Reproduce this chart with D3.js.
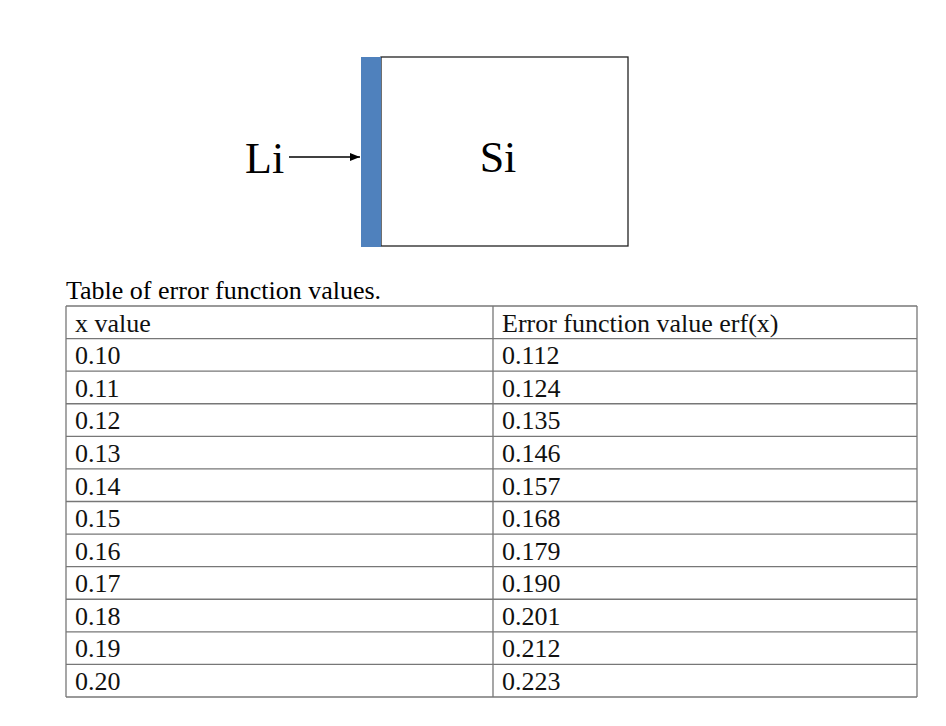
<!DOCTYPE html>
<html><head><meta charset="utf-8">
<script src="https://cdn.jsdelivr.net/npm/d3@7"></script>
<style>body{margin:0;background:#fff}</style>
</head><body>
<script>
// table contents
var headers = ["x value", "Error function value erf(x)"];
var xValues = ["0.10","0.11","0.12","0.13","0.14","0.15","0.16","0.17","0.18","0.19","0.20"];
var erfValues = ["0.112","0.124","0.135","0.146","0.157","0.168","0.179","0.190","0.201","0.212","0.223"];

var svg = d3.select("body").append("svg").attr("width", 946).attr("height", 726);
var font = "'Liberation Serif', 'Times New Roman', serif";

// ---- diagram
svg.append("defs").append("marker").attr("id", "ah")
  .attr("viewBox", "0 0 10 10").attr("refX", 10).attr("refY", 5)
  .attr("markerWidth", 8).attr("markerHeight", 8).attr("orient", "auto")
  .append("path").attr("d", "M0,1L10,5L0,9Z").attr("fill", "#000");

svg.append("rect").attr("x", 381).attr("y", 57).attr("width", 247).attr("height", 189)
  .attr("fill", "#fff").attr("stroke", "#222").attr("stroke-width", 1.3);
svg.append("rect").attr("x", 361).attr("y", 57).attr("width", 20).attr("height", 190)
  .attr("fill", "#4f81bd");
svg.append("text").attr("x", 245).attr("y", 173).attr("font-family", font)
  .attr("font-size", 44).text("Li");
svg.append("line").attr("x1", 289).attr("x2", 360).attr("y1", 157).attr("y2", 157)
  .attr("stroke", "#000").attr("stroke-width", 1.3).attr("marker-end", "url(#ah)");
svg.append("text").attr("x", 498).attr("y", 172).attr("text-anchor", "middle")
  .attr("font-family", font).attr("font-size", 44).text("Si");

// ---- table
svg.append("text").attr("x", 66).attr("y", 299).attr("font-family", font)
  .attr("font-size", 26).text("Table of error function values.");

var rows = [headers].concat(xValues.map(function(v, i){ return [v, erfValues[i]]; }));
var tLeft = 66, tRight = 917, tSplit = 493, tTop = 306, tBottom = 697;
var y = d3.scaleBand().domain(d3.range(rows.length)).range([tTop, tBottom]);
var colX = [tLeft, tSplit];

var g = svg.append("g");
rows.forEach(function(r, i){
  r.forEach(function(t, j){
    g.append("text").attr("x", colX[j] + 9).attr("y", y(i) + y.bandwidth() - 7)
      .attr("font-family", font).attr("font-size", 26).attr("fill", "#111").text(t);
  });
});
// grid lines
d3.range(rows.length + 1).forEach(function(i){
  var yy = i < rows.length ? y(i) : tBottom;
  g.append("line").attr("x1", tLeft).attr("x2", tRight).attr("y1", yy).attr("y2", yy)
    .attr("stroke", "#777").attr("stroke-width", 1.3);
});
[tLeft, tSplit, tRight].forEach(function(xx){
  g.append("line").attr("x1", xx).attr("x2", xx).attr("y1", tTop).attr("y2", tBottom)
    .attr("stroke", "#777").attr("stroke-width", 1.3);
});
</script>
</body></html>
